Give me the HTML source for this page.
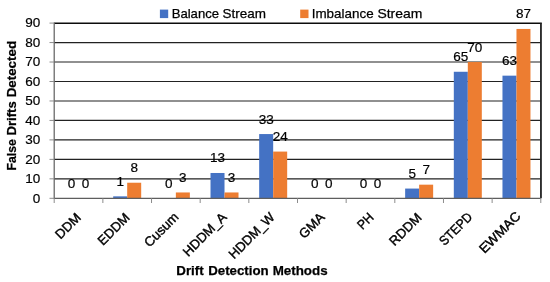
<!DOCTYPE html>
<html lang="en"><head><meta charset="utf-8"><title>False Drifts Detected</title>
<style>html,body{margin:0;padding:0;background:#fff;}body{width:550px;height:282px;overflow:hidden;}svg{display:block;}text{font-family:"Liberation Sans", sans-serif;fill:#000;stroke:#000;stroke-width:0.25px;}.dg text{stroke-width:0.2px;}.cl text{stroke-width:0.4px;}</style>
</head><body>
<svg width="550" height="282" viewBox="0 0 550 282">
<rect x="0" y="0" width="550" height="282" fill="#ffffff"/>
<g stroke="#222222" stroke-width="1.15" fill="none">
<line x1="54.20" y1="178.83" x2="540.80" y2="178.83"/>
<line x1="54.20" y1="159.37" x2="540.80" y2="159.37"/>
<line x1="54.20" y1="139.90" x2="540.80" y2="139.90"/>
<line x1="54.20" y1="120.43" x2="540.80" y2="120.43"/>
<line x1="54.20" y1="100.97" x2="540.80" y2="100.97"/>
<line x1="54.20" y1="81.50" x2="540.80" y2="81.50"/>
<line x1="54.20" y1="62.03" x2="540.80" y2="62.03"/>
<line x1="54.20" y1="42.57" x2="540.80" y2="42.57"/>
<line x1="54.20" y1="23.30" x2="541.80" y2="23.30" stroke-width="1.6" stroke="#0c0c0c"/>
<line x1="540.95" y1="23.30" x2="540.95" y2="198.30" stroke-width="1.8" stroke="#222"/>
</g>
<g>
<rect x="113.19" y="196.35" width="14.00" height="1.95" fill="#4472C4"/>
<rect x="127.19" y="182.73" width="14.00" height="15.57" fill="#ED7D31"/>
<rect x="175.85" y="192.46" width="14.00" height="5.84" fill="#ED7D31"/>
<rect x="210.51" y="172.99" width="14.00" height="25.31" fill="#4472C4"/>
<rect x="224.51" y="192.46" width="14.00" height="5.84" fill="#ED7D31"/>
<rect x="259.17" y="134.06" width="14.00" height="64.24" fill="#4472C4"/>
<rect x="273.17" y="151.58" width="14.00" height="46.72" fill="#ED7D31"/>
<rect x="405.15" y="188.57" width="14.00" height="9.73" fill="#4472C4"/>
<rect x="419.15" y="184.67" width="14.00" height="13.63" fill="#ED7D31"/>
<rect x="453.81" y="71.77" width="14.00" height="126.53" fill="#4472C4"/>
<rect x="467.81" y="62.03" width="14.00" height="136.27" fill="#ED7D31"/>
<rect x="502.47" y="75.66" width="14.00" height="122.64" fill="#4472C4"/>
<rect x="516.47" y="28.94" width="14.00" height="169.36" fill="#ED7D31"/>
</g>
<g stroke="#5e5e5e" stroke-width="1.2" fill="none">
<line x1="54.20" y1="22.60" x2="54.20" y2="198.90"/>
<line x1="54.20" y1="198.30" x2="540.80" y2="198.30"/>
</g>
<g stroke="#8c8c8c" stroke-width="1" fill="none">
<line x1="49.50" y1="198.30" x2="54.20" y2="198.30"/>
<line x1="49.50" y1="178.83" x2="54.20" y2="178.83"/>
<line x1="49.50" y1="159.37" x2="54.20" y2="159.37"/>
<line x1="49.50" y1="139.90" x2="54.20" y2="139.90"/>
<line x1="49.50" y1="120.43" x2="54.20" y2="120.43"/>
<line x1="49.50" y1="100.97" x2="54.20" y2="100.97"/>
<line x1="49.50" y1="81.50" x2="54.20" y2="81.50"/>
<line x1="49.50" y1="62.03" x2="54.20" y2="62.03"/>
<line x1="49.50" y1="42.57" x2="54.20" y2="42.57"/>
<line x1="49.50" y1="23.10" x2="54.20" y2="23.10"/>
<line x1="54.20" y1="198.30" x2="54.20" y2="203.00"/>
<line x1="102.86" y1="198.30" x2="102.86" y2="203.00"/>
<line x1="151.52" y1="198.30" x2="151.52" y2="203.00"/>
<line x1="200.18" y1="198.30" x2="200.18" y2="203.00"/>
<line x1="248.84" y1="198.30" x2="248.84" y2="203.00"/>
<line x1="297.50" y1="198.30" x2="297.50" y2="203.00"/>
<line x1="346.16" y1="198.30" x2="346.16" y2="203.00"/>
<line x1="394.82" y1="198.30" x2="394.82" y2="203.00"/>
<line x1="443.48" y1="198.30" x2="443.48" y2="203.00"/>
<line x1="492.14" y1="198.30" x2="492.14" y2="203.00"/>
<line x1="540.80" y1="198.30" x2="540.80" y2="203.00"/>
</g>
<g font-size="13.5" text-anchor="end" class="dg">
<text x="40.2" y="203.00">0</text>
<text x="40.2" y="183.49">10</text>
<text x="40.2" y="163.98">20</text>
<text x="40.2" y="144.47">30</text>
<text x="40.2" y="124.96">40</text>
<text x="40.2" y="105.44">50</text>
<text x="40.2" y="85.93">60</text>
<text x="40.2" y="66.42">70</text>
<text x="40.2" y="46.91">80</text>
<text x="40.2" y="27.40">90</text>
</g>
<g font-size="13.5" text-anchor="middle" class="dg">
<text x="71.53" y="187.80">0</text>
<text x="85.53" y="187.80">0</text>
<text x="120.19" y="185.85">1</text>
<text x="134.19" y="172.23">8</text>
<text x="168.85" y="187.80">0</text>
<text x="182.85" y="181.96">3</text>
<text x="217.51" y="162.49">13</text>
<text x="231.51" y="181.96">3</text>
<text x="266.17" y="123.56">33</text>
<text x="280.17" y="141.08">24</text>
<text x="314.83" y="187.80">0</text>
<text x="328.83" y="187.80">0</text>
<text x="363.49" y="187.80">0</text>
<text x="377.49" y="187.80">0</text>
<text x="412.15" y="178.07">5</text>
<text x="426.15" y="174.17">7</text>
<text x="460.81" y="61.27">65</text>
<text x="474.81" y="51.53">70</text>
<text x="509.47" y="65.16">63</text>
<text x="523.47" y="18.44">87</text>
</g>
<g font-size="13.2" text-anchor="end" class="cl">
<text transform="translate(78.53,215.20) rotate(-45)" x="0" y="4.7">DDM</text>
<text transform="translate(127.19,215.20) rotate(-45)" x="0" y="4.7">EDDM</text>
<text transform="translate(176.15,214.40) rotate(-45)" x="0" y="4.7" textLength="42.5" lengthAdjust="spacingAndGlyphs">Cusum</text>
<text transform="translate(224.21,214.60) rotate(-45)" x="0" y="4.7" textLength="55.7" lengthAdjust="spacingAndGlyphs">HDDM_A</text>
<text transform="translate(272.27,214.70) rotate(-45)" x="0" y="4.7" textLength="58.8" lengthAdjust="spacingAndGlyphs">HDDM_W</text>
<text transform="translate(322.13,214.80) rotate(-45)" x="0" y="4.7" textLength="30.0" lengthAdjust="spacingAndGlyphs">GMA</text>
<text transform="translate(371.29,214.80) rotate(-45)" x="0" y="4.7" textLength="17.0" lengthAdjust="spacingAndGlyphs">PH</text>
<text transform="translate(419.15,215.20) rotate(-45)" x="0" y="4.7">RDDM</text>
<text transform="translate(469.81,214.40) rotate(-45)" x="0" y="4.7" textLength="40.5" lengthAdjust="spacingAndGlyphs">STEPD</text>
<text transform="translate(518.07,213.80) rotate(-45)" x="0" y="4.7" textLength="52.3" lengthAdjust="spacingAndGlyphs">EWMAC</text>
</g>
<rect x="159.9" y="9.6" width="8.3" height="8.5" fill="#4472C4"/>
<text x="171.63" y="18.40" font-size="13.5" textLength="47.47" lengthAdjust="spacingAndGlyphs">Balance</text>
<text x="222.49" y="18.40" font-size="13.5" textLength="43.42" lengthAdjust="spacingAndGlyphs">Stream</text>
<rect x="300.2" y="9.6" width="8.3" height="8.5" fill="#ED7D31"/>
<text x="311.71" y="18.40" font-size="13.5" textLength="61.90" lengthAdjust="spacingAndGlyphs">Imbalance</text>
<text x="377.43" y="18.40" font-size="13.5" textLength="44.90" lengthAdjust="spacingAndGlyphs">Stream</text>
<text x="176.27" y="275.20" font-size="13.3" font-weight="bold" textLength="27.38" lengthAdjust="spacingAndGlyphs">Drift</text>
<text x="208.23" y="275.20" font-size="13.3" font-weight="bold" textLength="60.46" lengthAdjust="spacingAndGlyphs">Detection</text>
<text x="272.68" y="275.20" font-size="13.3" font-weight="bold" textLength="54.97" lengthAdjust="spacingAndGlyphs">Methods</text>
<text transform="translate(15.6,170.55) rotate(-90)" x="0" y="0" font-size="13.3" font-weight="bold" textLength="31.37" lengthAdjust="spacingAndGlyphs">False</text>
<text transform="translate(15.6,135.54) rotate(-90)" x="0" y="0" font-size="13.3" font-weight="bold" textLength="34.23" lengthAdjust="spacingAndGlyphs">Drifts</text>
<text transform="translate(15.6,97.36) rotate(-90)" x="0" y="0" font-size="13.3" font-weight="bold" textLength="56.46" lengthAdjust="spacingAndGlyphs">Detected</text>
</svg>
</body></html>
